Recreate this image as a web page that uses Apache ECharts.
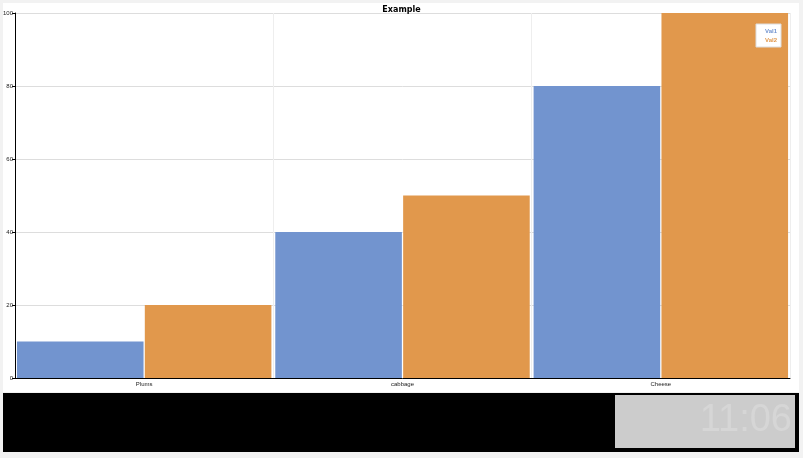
<!DOCTYPE html>
<html><head><meta charset="utf-8">
<script src="https://cdn.jsdelivr.net/npm/echarts@6/dist/echarts.min.js"></script>
<style>html,body{margin:0;padding:0;background:#f2f2f2}#c{width:803px;height:458px}</style>
</head><body><div id="c"></div>
<script>
const categories = ['Plums', 'cabbage', 'Cheese'];
const val1 = [10, 40, 80];
const val2 = [20, 50, 100];
const seriesNames = ['Val1', 'Val2'];
const clockText = '11:06';

const chart = echarts.init(document.getElementById('c'));
chart.setOption({
  animation: false,
  backgroundColor: '#f2f2f2',
  title: { text: 'Example', left: 'center', top: 1, textStyle: { fontSize: 8, fontWeight: 'bold', color: '#000', fontFamily: 'DejaVu Sans' } },
  graphic: [
    { type: 'rect', z: -10, shape: { x: 3, y: 3, width: 796, height: 389 }, style: { fill: '#ffffff' } },
    { type: 'rect', shape: { x: 3, y: 393, width: 796, height: 59 }, style: { fill: '#000000' } },
    { type: 'rect', shape: { x: 615, y: 395, width: 180, height: 53 }, style: { fill: '#cccccc' } },
    { type: 'text', style: { x: 792, y: 421, text: clockText, align: 'right', verticalAlign: 'middle', fill: '#d6d6d6', font: '38px "Liberation Sans"' } }
  ],
  legend: {
    right: 22, top: 24, orient: 'vertical', itemWidth: 0, itemHeight: 0, itemGap: 3,
    backgroundColor: '#fff', borderColor: '#ddd', borderWidth: 1, padding: [4, 4],
    textStyle: { fontSize: 6, fontWeight: 'bold', color: 'inherit' },
    data: seriesNames
  },
  grid: { left: 12, right: 13, top: 13, bottom: 80, containLabel: false },
  xAxis: {
    type: 'category', data: categories,
    axisLine: { lineStyle: { color: '#000' } }, axisTick: { show: false },
    axisLabel: { fontSize: 6, color: '#222', margin: 3 },
    splitLine: { show: true, lineStyle: { color: '#eeeeee' } }
  },
  yAxis: {
    type: 'value', min: 0, max: 100, interval: 20,
    axisLine: { show: true, lineStyle: { color: '#000' } }, axisTick: { show: true, length: 3, lineStyle: { color: '#000' } },
    axisLabel: { fontSize: 6, color: '#222', margin: 2 },
    splitLine: { lineStyle: { color: '#dddddd' } }
  },
  series: [
    { name: seriesNames[0], type: 'bar', data: val1, barGap: '1%', barCategoryGap: '1.5%', itemStyle: { color: '#7294cf' } },
    { name: seriesNames[1], type: 'bar', data: val2, itemStyle: { color: '#e1984c' } }
  ]
});
</script></body></html>
